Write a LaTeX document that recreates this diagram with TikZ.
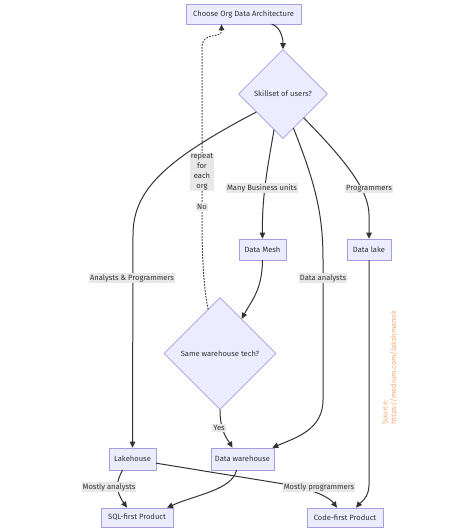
\documentclass[tikz,border=0pt]{standalone}
\usepackage{fontspec}
\setmainfont{Fira Sans}
\usetikzlibrary{arrows.meta,shapes.geometric}
\definecolor{boxfill}{HTML}{ECECFF}
\definecolor{boxline}{HTML}{A89BE0}
\definecolor{edgeline}{HTML}{333333}
\definecolor{lblfill}{HTML}{E8E8E8}
\definecolor{srccolor}{HTML}{F2AA70}

\begin{document}
\begin{tikzpicture}[line cap=round,line join=round,>={Triangle[length=6pt,width=5.5pt]},x=1pt,y=-1pt,
  every node/.style={font=\fontsize{7.6}{9}\selectfont,text=edgeline},
  box/.style={draw=boxline,fill=boxfill,line width=0.6pt,inner sep=1pt},
  decision/.style={diamond,aspect=1,draw=boxline,fill=boxfill,line width=0.6pt,inner sep=0pt},
  flow/.style={->,draw=edgeline,line width=1pt},
  repeatflow/.style={->,draw=edgeline,line width=1pt,dotted},
  lbl/.style={fill=lblfill,inner sep=1pt,align=center}]
\useasboundingbox (0,0) rectangle (474,532);
% nodes
\node[box,minimum width=115pt,minimum height=20pt] (choose) at (243.5,14) {Choose Org Data Architecture};
\node[decision,minimum size=89pt] (sk) at (283,94) {Skillset of users?};
\node[box,minimum width=47pt,minimum height=21pt] (dm) at (262.5,249.5) {Data Mesh};
\node[box,minimum width=44pt,minimum height=21pt] (dl) at (369,249.5) {Data lake};
\node[decision,minimum size=112pt] (sw) at (220,353.5) {Same warehouse tech?};
\node[box,minimum width=63pt,minimum height=22pt] (dw) at (242.5,459) {Data warehouse};
\node[box,minimum width=47pt,minimum height=22pt] (lh) at (132.5,459) {Lakehouse};
\node[box,minimum width=72pt,minimum height=19pt] (sql) at (137,517.5) {SQL-first Product};
\node[box,minimum width=76pt,minimum height=19pt] (cf) at (345,517.5) {Code-first Product};
% connectors
\draw[flow] (choose.-20) .. controls (279,26) and (283,36) .. (sk.north);
\draw[repeatflow] (sw.105) .. controls (204,290) and (202,260) .. (202,220) -- (202,48) .. controls (202,30) and (222,40) .. (choose.205);
\draw[flow] (sk.214) .. controls (165,160) and (133,190) .. (133,235) -- (lh.north);
\draw[flow] (sk.256) .. controls (266,175) and (262,200) .. (dm.north);
\draw[flow] (sk.-73) .. controls (316,185) and (323,215) .. (323,260) -- (323,400) .. controls (323,430) and (295,438) .. ([xshift=-2pt]dw.north east);
\draw[flow] (sk.-49) .. controls (345,160) and (369,190) .. (369,215) -- (dl.north);
\draw[flow] (dm.south) .. controls (262,290) and (252,300) .. (sw.58);
\draw[flow] (sw.south) .. controls (220,432) and (228,440) .. ([xshift=-10pt]dw.north);
\draw[flow] (dl.south) -- (369,485) .. controls (369,498) and (360,503) .. ([xshift=11pt]cf.north);
\draw[flow] ([xshift=-10pt]lh.south) .. controls (116,482) and (115,490) .. ([xshift=-10pt]sql.north);
\draw[flow] (lh.-10) -- (290,485) .. controls (315,490) and (330,498) .. ([xshift=-8pt]cf.north);
\draw[flow] ([xshift=-6pt]dw.south) .. controls (232,490) and (195,495) .. ([xshift=30pt]sql.north);
% labels
\node[lbl,font=\fontsize{7.6}{10}\selectfont] (lrepeat) at (202,172) {repeat\\for\\each\\org};
\node[lbl] (lno) at (202,207) {No};
\node[lbl] (lmany) at (262,188) {Many Business units};
\node[lbl] (lprog) at (369,189) {Programmers};
\node[lbl] (lap) at (132,278) {Analysts \& Programmers};
\node[lbl] (lda) at (323,278) {Data analysts};
\node[lbl] (lyes) at (219,428) {Yes};
\node[lbl] (lma) at (109,487) {Mostly analysts};
\node[lbl] (lmp) at (319,487) {Mostly programmers};
\node[rotate=90,anchor=north west,align=left,text=srccolor,font=\fontsize{7.4}{8.5}\selectfont] (src) at (379,428) {Source:\\https://medium.com/lakshmanok};
\end{tikzpicture}
\end{document}
